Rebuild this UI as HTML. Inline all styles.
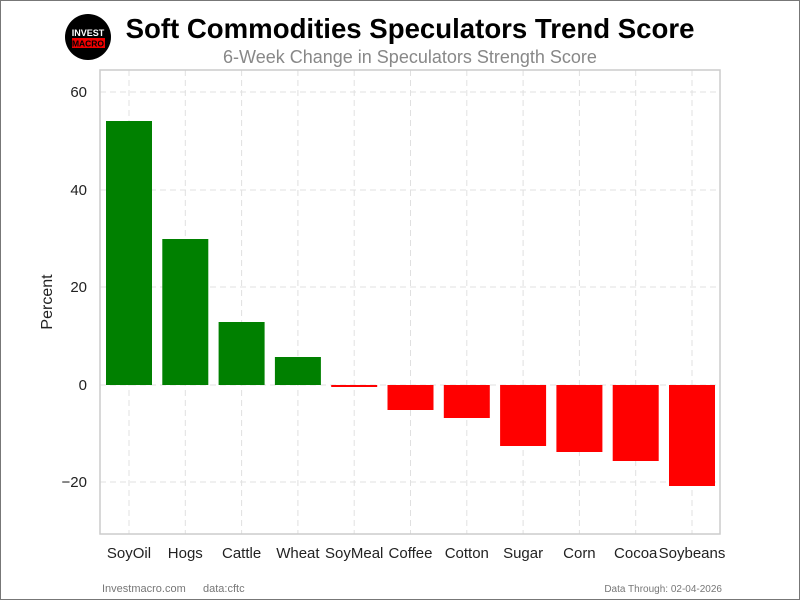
<!DOCTYPE html>
<html><head><style>
body{margin:0;background:#fff;}
svg{display:block;font-family:"Liberation Sans",Arial,sans-serif;}
</style></head><body>
<svg width="800" height="600" viewBox="0 0 800 600">
<rect x="0.5" y="0.5" width="799" height="599" fill="#fff" stroke="#777"/>
<circle cx="88" cy="37" r="23" fill="#000"/>
<text x="88" y="36" font-size="9" font-weight="bold" fill="#fff" text-anchor="middle">INVEST</text>
<rect x="72" y="38" width="33" height="10" fill="#e00"/>
<text x="88" y="46.5" font-size="8.5" font-weight="bold" fill="#000" text-anchor="middle">MACRO</text>
<text x="410" y="38" font-size="27.6" font-weight="bold" text-anchor="middle" fill="#000">Soft Commodities Speculators Trend Score</text>
<text x="410" y="63" font-size="18" text-anchor="middle" fill="#888">6-Week Change in Speculators Strength Score</text>
<g stroke="#e0e0e0" stroke-dasharray="6,4" stroke-width="1">
<line x1="100" x2="720" y1="92" y2="92"/><line x1="100" x2="720" y1="190" y2="190"/>
<line x1="100" x2="720" y1="287" y2="287"/><line x1="100" x2="720" y1="385" y2="385"/>
<line x1="100" x2="720" y1="482" y2="482"/>
<line x1="129" x2="129" y1="70" y2="534"/><line x1="185.3" x2="185.3" y1="70" y2="534"/>
<line x1="241.6" x2="241.6" y1="70" y2="534"/><line x1="297.9" x2="297.9" y1="70" y2="534"/>
<line x1="354.2" x2="354.2" y1="70" y2="534"/><line x1="410.5" x2="410.5" y1="70" y2="534"/>
<line x1="466.8" x2="466.8" y1="70" y2="534"/><line x1="523.1" x2="523.1" y1="70" y2="534"/>
<line x1="579.4" x2="579.4" y1="70" y2="534"/><line x1="635.7" x2="635.7" y1="70" y2="534"/>
<line x1="692" x2="692" y1="70" y2="534"/>
</g>
<g fill="#008000">
<rect x="106" y="121" width="46" height="264"/>
<rect x="162.3" y="239" width="46" height="146"/>
<rect x="218.6" y="322" width="46" height="63"/>
<rect x="274.9" y="357" width="46" height="28"/>
</g>
<g fill="#ff0000">
<rect x="331.2" y="385" width="46" height="2"/>
<rect x="387.5" y="385" width="46" height="25"/>
<rect x="443.8" y="385" width="46" height="33"/>
<rect x="500.1" y="385" width="46" height="61"/>
<rect x="556.4" y="385" width="46" height="67"/>
<rect x="612.7" y="385" width="46" height="76"/>
<rect x="669" y="385" width="46" height="101"/>
</g>
<rect x="100" y="70" width="620" height="464" fill="none" stroke="#ccc" stroke-width="1.5"/>
<g font-size="15" fill="#222" text-anchor="end">
<text x="87" y="97">60</text><text x="87" y="195">40</text><text x="87" y="292">20</text>
<text x="87" y="390">0</text><text x="87" y="487">−20</text>
</g>
<text transform="translate(52,302) rotate(-90)" font-size="16" fill="#222" text-anchor="middle">Percent</text>
<g font-size="15" fill="#222" text-anchor="middle">
<text x="129" y="558">SoyOil</text><text x="185.3" y="558">Hogs</text><text x="241.6" y="558">Cattle</text>
<text x="297.9" y="558">Wheat</text><text x="354.2" y="558">SoyMeal</text><text x="410.5" y="558">Coffee</text>
<text x="466.8" y="558">Cotton</text><text x="523.1" y="558">Sugar</text><text x="579.4" y="558">Corn</text>
<text x="635.7" y="558">Cocoa</text><text x="692" y="558">Soybeans</text>
</g>
<text x="102" y="592" font-size="11" fill="#777">Investmacro.com</text>
<text x="203" y="592" font-size="11" fill="#777">data:cftc</text>
<text x="722" y="592" font-size="10" fill="#777" text-anchor="end">Data Through: 02-04-2026</text>
</svg>
</body></html>
